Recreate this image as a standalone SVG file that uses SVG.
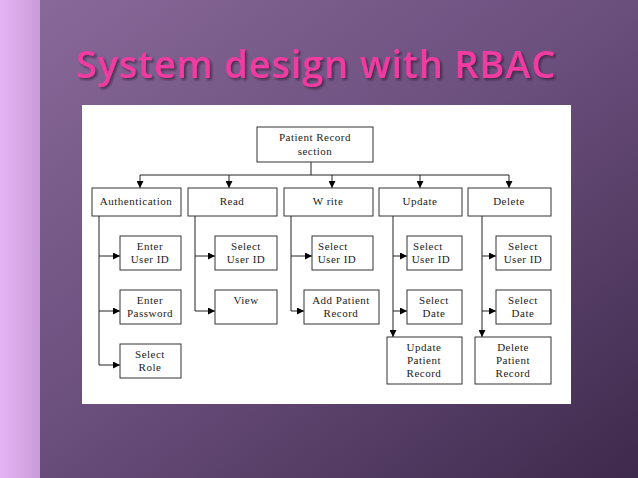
<svg xmlns="http://www.w3.org/2000/svg" width="638" height="478" viewBox="0 0 638 478">
<defs>
<linearGradient id="bg" x1="0" y1="0" x2="1" y2="1">
<stop offset="0" stop-color="#8a6a9a"/><stop offset="0.5" stop-color="#6a4e7c"/><stop offset="1" stop-color="#3e2a4c"/>
</linearGradient>
<linearGradient id="band" x1="0" y1="0" x2="1" y2="0">
<stop offset="0" stop-color="#e6b4f5"/><stop offset="1" stop-color="#c99ad8"/>
</linearGradient>
<filter id="sh" x="-5%" y="-20%" width="110%" height="140%"><feDropShadow dx="2" dy="2" stdDeviation="1" flood-color="#2a102a" flood-opacity="0.6"/></filter>
<marker id="a" viewBox="0 0 10 10" refX="10" refY="5" markerWidth="7" markerHeight="7" orient="auto" markerUnits="userSpaceOnUse"><path d="M0,0L10,5L0,10z" fill="#000"/></marker>
<style>
.b{fill:#fff;stroke:#333;stroke-width:1}
.t{font-family:"Liberation Serif",serif;font-size:11px;fill:#222;text-anchor:middle;letter-spacing:0.5px}
.c{fill:none;stroke:#222;stroke-width:1}
</style>
</defs>
<rect width="638" height="478" fill="url(#bg)"/>
<rect x="0" y="0" width="40" height="478" fill="url(#band)"/>
<text x="316" y="78" font-family="Open Sans, sans-serif" font-size="38" font-weight="600" fill="#f03aa0" text-anchor="middle" letter-spacing="0.8" filter="url(#sh)">System design with RBAC</text>
<rect x="82" y="105" width="489" height="299" fill="#fff"/>
<g id="connectors">
<path class="c" d="M311,162V175M140,175H509"/>
<path class="c" d="M140,175V188" marker-end="url(#a)"/>
<path class="c" d="M229,175V188" marker-end="url(#a)"/>
<path class="c" d="M332,175V188" marker-end="url(#a)"/>
<path class="c" d="M420,175V188" marker-end="url(#a)"/>
<path class="c" d="M509,175V188" marker-end="url(#a)"/>
<path class="c" d="M99,216V365"/>
<path class="c" d="M99,256H120" marker-end="url(#a)"/>
<path class="c" d="M99,311H120" marker-end="url(#a)"/>
<path class="c" d="M99,365H120" marker-end="url(#a)"/>
<path class="c" d="M195,216V311"/>
<path class="c" d="M195,256H215" marker-end="url(#a)"/>
<path class="c" d="M195,311H215" marker-end="url(#a)"/>
<path class="c" d="M291,216V311"/>
<path class="c" d="M291,256H312" marker-end="url(#a)"/>
<path class="c" d="M291,311H304" marker-end="url(#a)"/>
<path class="c" d="M393,216V337" marker-end="url(#a)"/>
<path class="c" d="M393,256H407" marker-end="url(#a)"/>
<path class="c" d="M393,311H407" marker-end="url(#a)"/>
<path class="c" d="M482,216V337" marker-end="url(#a)"/>
<path class="c" d="M482,256H496" marker-end="url(#a)"/>
<path class="c" d="M482,311H496" marker-end="url(#a)"/>
</g>
<g id="root"><rect class="b" x="257" y="127" width="116" height="35"/><text class="t" x="315" y="141">Patient Record</text><text class="t" x="315" y="155">section</text></g>
<g id="auth"><rect class="b" x="92" y="188" width="89" height="28"/><text class="t" x="136" y="205">Authentication</text></g>
<g id="read"><rect class="b" x="188" y="188" width="89" height="28"/><text class="t" x="232" y="205">Read</text></g>
<g id="write"><rect class="b" x="284" y="188" width="89" height="28"/><text class="t" x="328" y="205">W rite</text></g>
<g id="update"><rect class="b" x="379" y="188" width="83" height="28"/><text class="t" x="420" y="205">Update</text></g>
<g id="delete"><rect class="b" x="468" y="188" width="83" height="28"/><text class="t" x="509" y="205">Delete</text></g>
<g id="a1"><rect class="b" x="120" y="236" width="61" height="34"/><text class="t" x="150" y="250">Enter</text><text class="t" x="150" y="263">User ID</text></g>
<g id="a2"><rect class="b" x="120" y="290" width="61" height="34"/><text class="t" x="150" y="304">Enter</text><text class="t" x="150" y="317">Password</text></g>
<g id="a3"><rect class="b" x="120" y="344" width="61" height="34"/><text class="t" x="150" y="358">Select</text><text class="t" x="150" y="371">Role</text></g>
<g id="r1"><rect class="b" x="215" y="236" width="62" height="34"/><text class="t" x="246" y="250">Select</text><text class="t" x="246" y="263">User ID</text></g>
<g id="r2"><rect class="b" x="215" y="290" width="62" height="34"/><text class="t" x="246" y="304">View</text></g>
<g id="w1"><rect class="b" x="312" y="236" width="61" height="34"/><text class="t" x="333" y="250">Select</text><text class="t" x="337" y="263">User ID</text></g>
<g id="w2"><rect class="b" x="304" y="290" width="75" height="34"/><text class="t" x="341" y="304">Add Patient</text><text class="t" x="341" y="317">Record</text></g>
<g id="u1"><rect class="b" x="407" y="236" width="55" height="34"/><text class="t" x="428" y="250">Select</text><text class="t" x="431" y="263">User ID</text></g>
<g id="u2"><rect class="b" x="407" y="290" width="55" height="34"/><text class="t" x="434" y="304">Select</text><text class="t" x="434" y="317">Date</text></g>
<g id="u3"><rect class="b" x="387" y="337" width="75" height="47"/><text class="t" x="424" y="351">Update</text><text class="t" x="424" y="364">Patient</text><text class="t" x="424" y="377">Record</text></g>
<g id="d1"><rect class="b" x="496" y="236" width="55" height="34"/><text class="t" x="523" y="250">Select</text><text class="t" x="523" y="263">User ID</text></g>
<g id="d2"><rect class="b" x="496" y="290" width="55" height="34"/><text class="t" x="523" y="304">Select</text><text class="t" x="523" y="317">Date</text></g>
<g id="d3"><rect class="b" x="475" y="337" width="76" height="47"/><text class="t" x="513" y="351">Delete</text><text class="t" x="513" y="364">Patient</text><text class="t" x="513" y="377">Record</text></g>
</svg>
